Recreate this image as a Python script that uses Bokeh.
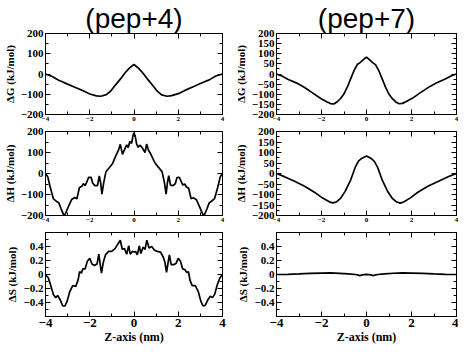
from bokeh.plotting import figure
from bokeh.models import FixedTicker, LinearAxis, Range1d
from bokeh.layouts import row, column
from bokeh.embed import file_html
from bokeh.resources import INLINE

# ---------------- data ----------------
titles = ["(pep+4)", "(pep+7)"]
ylabels = ["\u0394G (kJ/mol)", "\u0394H (kJ/mol)", "\u0394S (kJ/mol)"]
xlabel = "Z-axis (nm)"

x_ticks = [-4, -2, 0, 2, 4]
x_minor = [-3, -1, 1, 3]
yticks_left = [-200, -100, 0, 100, 200]
yminor_left = [-150, -50, 50, 150]
yticks_right = [-200, -150, -100, -50, 0, 50, 100, 150, 200]
yminor_right = [-175, -125, -75, -25, 25, 75, 125, 175]
yticks_s = [-0.4, -0.2, 0, 0.2, 0.4]
yminor_s = [-0.5, -0.3, -0.1, 0.1, 0.3, 0.5]

# pep+4  dG
x_g4 = [-4.0, -3.7, -3.4, -3.0, -2.7, -2.3, -2.0, -1.7, -1.5, -1.25, -1.05, -0.85, -0.6, -0.4, -0.2, 0.0,
        0.2, 0.4, 0.6, 0.85, 1.05, 1.25, 1.5, 1.7, 2.0, 2.3, 2.7, 3.0, 3.4, 3.7, 4.0]
dg4 = [0, -12, -31, -50, -64, -83, -99, -108, -110, -102, -84, -56, -23, 6, 30, 47,
       29, 5, -24, -57, -85, -103, -110, -107, -97, -81, -62, -47, -29, -10, 0]

# pep+4  dH
x_h4 = [-4.0, -3.9, -3.78, -3.64, -3.5, -3.4, -3.3, -3.18, -3.11, -2.97, -2.82, -2.68, -2.58, -2.47, -2.36,
        -2.29, -2.21, -2.14, -2.05, -1.94, -1.87, -1.77, -1.65, -1.57, -1.51, -1.45, -1.37, -1.27, -1.12,
        -0.98, -0.83, -0.69, -0.62, -0.52, -0.4, -0.33, -0.26, -0.19, -0.11, -0.04, 0.0,
        0.05, 0.12, 0.19, 0.26, 0.33, 0.4, 0.5, 0.57, 0.65, 0.78, 0.95, 1.12, 1.27, 1.37, 1.45, 1.51, 1.57,
        1.65, 1.77, 1.87, 1.94, 2.05, 2.14, 2.21, 2.29, 2.36, 2.47, 2.58, 2.68, 2.82, 2.97, 3.11, 3.18, 3.3,
        3.4, 3.5, 3.64, 3.78, 3.9, 4.0]
dh4 = [0, -15, -68, -121, -133, -139, -167, -197, -194, -159, -124, -114, -121, -68, -61,
       -48, -58, -42, -18, -18, -45, -58, -58, -12, -42, -98, -45, 8, 27,
       45, 83, 114, 139, 91, 121, 136, 124, 152, 144, 182, 194,
       180, 140, 125, 135, 128, 118, 100, 140, 112, 88, 50, 28, 8, -40, -98, -45, -10,
       -55, -58, -48, -20, -18, -40, -55, -50, -63, -70, -120, -115, -125, -160, -195, -197, -168,
       -140, -132, -120, -68, -15, 0]

# pep+4  dS
x_s4 = [-4.0, -3.87, -3.76, -3.64, -3.54, -3.45, -3.34, -3.22, -3.12, -3.02, -2.91, -2.77, -2.63, -2.52,
        -2.46, -2.38, -2.31, -2.21, -2.11, -2.0, -1.9, -1.79, -1.67, -1.59, -1.53, -1.47, -1.39, -1.29,
        -1.15, -1.01, -0.86, -0.76, -0.62, -0.53, -0.43, -0.33, -0.24, -0.17, -0.07, 0.0,
        0.07, 0.15, 0.24, 0.31, 0.41, 0.5, 0.58, 0.68, 0.8, 0.92, 1.05, 1.2, 1.32, 1.4, 1.47, 1.53, 1.6,
        1.68, 1.8, 1.9, 2.0, 2.1, 2.2, 2.3, 2.38, 2.46, 2.53, 2.63, 2.77, 2.9, 3.02, 3.12, 3.22, 3.34,
        3.45, 3.55, 3.65, 3.76, 3.88, 4.0]
ds4 = [0.0, -0.05, -0.16, -0.29, -0.33, -0.30, -0.36, -0.45, -0.45, -0.38, -0.25, -0.16, -0.17, -0.07,
       0.04, 0.02, 0.08, 0.08, 0.19, 0.23, 0.15, 0.13, 0.15, 0.29, 0.15, 0.02, 0.17, 0.28,
       0.33, 0.33, 0.37, 0.42, 0.49, 0.36, 0.37, 0.29, 0.41, 0.29, 0.33, 0.32,
       0.33, 0.28, 0.41, 0.30, 0.39, 0.36, 0.49, 0.38, 0.40, 0.35, 0.33, 0.32, 0.25, 0.17, 0.03, 0.15, 0.28,
       0.14, 0.14, 0.16, 0.23, 0.19, 0.08, 0.07, 0.03, 0.04, -0.08, -0.16, -0.16, -0.24, -0.38, -0.45, -0.44,
       -0.36, -0.31, -0.33, -0.28, -0.15, -0.05, 0.0]

# pep+7  dG
x_g7 = [-4.0, -3.8, -3.5, -3.1, -2.75, -2.4, -2.05, -1.75, -1.6, -1.45, -1.3, -1.15, -1.0, -0.85, -0.7,
        -0.55, -0.4, -0.3, -0.2, -0.1, 0.0, 0.1, 0.2, 0.3, 0.4, 0.55, 0.7, 0.85, 1.0, 1.15, 1.3, 1.45,
        1.6, 1.75, 2.05, 2.4, 2.75, 3.1, 3.5, 3.8, 4.0]
dg7 = [0, -8, -26, -45, -67, -93, -120, -138, -146, -148, -137, -121, -98, -64, -23,
       18, 48, 55, 65, 75, 83, 74, 64, 54, 46, 16, -25, -66, -100, -122, -138, -147,
       -145, -137, -119, -92, -66, -44, -25, -7, 0]

# pep+7  dH
x_h7 = [-4.0, -3.65, -3.2, -2.75, -2.3, -1.95, -1.65, -1.5, -1.35, -1.15, -0.95, -0.7, -0.5, -0.35, -0.2,
        0.0, 0.2, 0.35, 0.5, 0.7, 0.95, 1.15, 1.35, 1.5, 1.65, 1.95, 2.3, 2.75, 3.2, 3.65, 4.0]
dh7 = [0, -15, -37, -61, -90, -117, -135, -140, -136, -118, -85, -30, 30, 60, 73,
       83, 72, 58, 28, -32, -87, -119, -136, -141, -136, -116, -88, -60, -37, -14, 0]

# pep+7  dS
x_s7 = [-4.0, -3.5, -3.0, -2.5, -2.0, -1.6, -1.2, -0.8, -0.5, -0.35, -0.3, -0.2, 0.0, 0.2, 0.3, 0.35,
        0.5, 0.8, 1.2, 1.6, 2.0, 2.5, 3.0, 3.5, 4.0]
ds7 = [0.0, 0.003, 0.008, 0.015, 0.02, 0.022, 0.015, 0.008, 0.0, -0.01, -0.018, -0.005, 0.002, -0.005,
       -0.018, -0.01, 0.0, 0.01, 0.018, 0.022, 0.02, 0.015, 0.008, 0.003, 0.0]

# ---------------- styling ----------------
SERIF = "Liberation Serif"
SANS = "Liberation Sans"


def style_axis(ax, ticks, minor, size, show=True):
    ax.ticker = FixedTicker(ticks=ticks, minor_ticks=minor)
    ax.major_tick_in = 5
    ax.major_tick_out = 0
    ax.minor_tick_in = 3
    ax.minor_tick_out = 0
    ax.axis_line_color = "black"
    ax.major_tick_line_color = "black"
    ax.minor_tick_line_color = "black"
    ax.major_label_text_font = SERIF
    ax.major_label_text_font_style = "bold"
    ax.axis_label_text_font = SERIF
    ax.axis_label_text_font_style = "bold"
    ax.axis_label_text_color = "black"
    ax.axis_label_text_font_size = "11px"
    ax.axis_label_standoff = 2
    if show:
        ax.major_label_text_color = "black"
        ax.major_label_text_font_size = size
        ax.major_label_standoff = 2
    else:
        ax.major_label_text_color = None
        ax.major_label_text_font_size = "1px"
        ax.major_label_standoff = 0
        ax.major_label_overrides = {t: "" for t in ticks}


def panel(xs, ys, yr, yt, ym, ylab, w, h, bl, br, bt, bb, title=None, xsize="7px", xlab=None):
    p = figure(width=w, height=h, x_range=Range1d(-4, 4), y_range=Range1d(yr[0], yr[1]),
               output_backend="svg", toolbar_location=None,
               min_border_left=bl, min_border_right=br, min_border_top=bt, min_border_bottom=bb)
    p.grid.visible = False
    p.outline_line_color = "black"
    p.outline_line_width = 1
    p.line(xs, ys, line_color="black", line_width=1.7)
    style_axis(p.xaxis[0], x_ticks, x_minor, xsize)
    style_axis(p.yaxis[0], yt, ym, "11px")
    p.yaxis[0].axis_label = ylab
    if xlab:
        p.xaxis[0].axis_label = xlab
        p.xaxis[0].axis_label_text_font_size = "12px"
        p.xaxis[0].axis_label_standoff = 0
    ra = LinearAxis()
    style_axis(ra, yt, ym, "1px", show=False)
    p.add_layout(ra, "right")
    ta = LinearAxis()
    style_axis(ta, x_ticks, x_minor, "1px", show=False)
    p.add_layout(ta, "above")
    if title:
        p.title.text = title
        p.title.text_font = SANS
        p.title.text_font_style = "normal"
        p.title.text_color = "black"
        p.title.text_font_size = "28px"
        p.title.align = "center"
        p.title.standoff = 0
        p.title.offset = 0
    return p


WL, WR = 228, 230
f1 = panel(x_g4, dg4, (-200, 200), yticks_left, yminor_left, ylabels[0], WL, 126, 40, 6, 30, 12, title=titles[0])
f2 = panel(x_h4, dh4, (-200, 200), yticks_left, yminor_left, ylabels[1], WL, 101, 40, 6, 5, 12)
f3 = panel(x_s4, ds4, (-0.6, 0.6), yticks_s, yminor_s, ylabels[2], WL, 121, 40, 6, 5, 32, xsize="13px", xlab=xlabel)
f4 = panel(x_g7, dg7, (-200, 200), yticks_right, yminor_right, ylabels[0], WR, 126, 48, 2, 30, 12, title=titles[1])
f5 = panel(x_h7, dh7, (-200, 200), yticks_right, yminor_right, ylabels[1], WR, 101, 48, 2, 5, 12)
f6 = panel(x_s7, ds7, (-0.6, 0.6), yticks_s, yminor_s, ylabels[2], WR, 121, 48, 2, 5, 32, xsize="13px", xlab=xlabel)

layout = row(column(f1, f2, f3), column(f4, f5, f6))
open("out.html", "w").write(file_html(layout, INLINE))
